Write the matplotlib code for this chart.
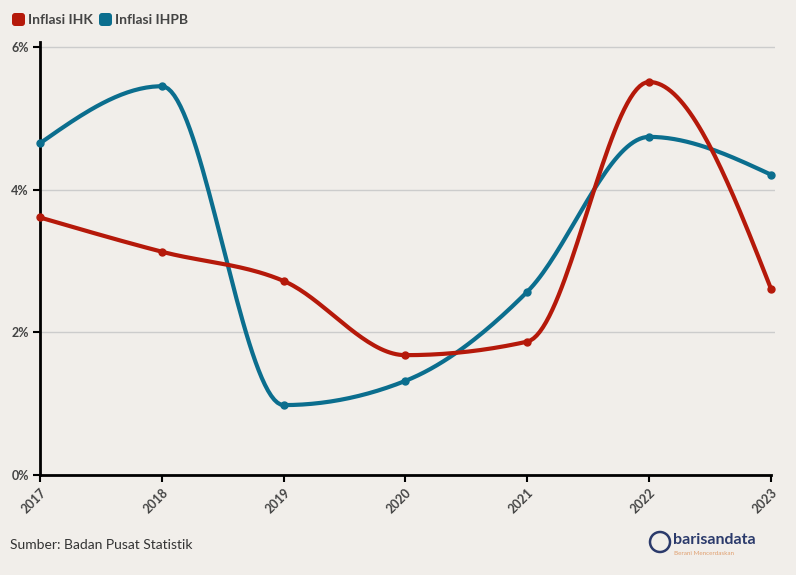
import numpy as np
import matplotlib.pyplot as plt
from matplotlib.patches import Circle, FancyBboxPatch

# data (persen)
tahun = [2017, 2018, 2019, 2020, 2021, 2022, 2023]
inflasi_ihk = [3.61, 3.13, 2.72, 1.68, 1.87, 5.51, 2.61]
inflasi_ihpb = [4.65, 5.45, 0.98, 1.32, 2.57, 4.74, 4.21]
y_ticks = [0, 2, 4, 6]
y_labels = ['0%', '2%', '4%', '6%']

bg = '#f1eeea'
merah = '#b5190a'
biru = '#0b6e8e'
teks = '#444444'

plt.rcParams['font.family'] = ['Lato', 'DejaVu Sans']


def monotone(x, y, n=40):
    # kurva monoton (mirip d3 curveMonotoneX)
    x = np.asarray(x, float)
    y = np.asarray(y, float)
    h = np.diff(x)
    s = np.diff(y) / h
    m = np.zeros_like(y)
    for i in range(1, len(y) - 1):
        if s[i - 1] * s[i] <= 0:
            m[i] = 0
        else:
            p = (s[i - 1] * h[i] + s[i] * h[i - 1]) / (h[i - 1] + h[i])
            m[i] = (np.sign(s[i - 1]) + np.sign(s[i])) * min(abs(s[i - 1]), abs(s[i]), 0.5 * abs(p))
    m[0] = (3 * s[0] - m[1]) / 2
    m[-1] = (3 * s[-1] - m[-2]) / 2
    xs, ys = [], []
    for i in range(len(x) - 1):
        t = np.linspace(0, 1, n)
        h00 = 2 * t**3 - 3 * t**2 + 1
        h10 = t**3 - 2 * t**2 + t
        h01 = -2 * t**3 + 3 * t**2
        h11 = t**3 - t**2
        xs.append(x[i] + t * h[i])
        ys.append(h00 * y[i] + h10 * h[i] * m[i] + h01 * y[i + 1] + h11 * h[i] * m[i + 1])
    return np.concatenate(xs), np.concatenate(ys)


W, H = 796, 575
fig = plt.figure(figsize=(W / 100, H / 100), dpi=100, facecolor=bg)
ax = fig.add_axes([40 / W, 1 - 475 / H, 735 / W, 433 / H], facecolor=bg)

for data, warna in [(inflasi_ihpb, biru), (inflasi_ihk, merah)]:
    xs, ys = monotone(tahun, data)
    ax.plot(xs, ys, color=warna, lw=3, solid_capstyle='round', zorder=3, clip_on=False)
    ax.plot(tahun, data, 'o', color=warna, ms=5, zorder=4, clip_on=False)

ax.set_xlim(2017, 2023 + 4 / 121.8)
ax.set_ylim(0, 6.07)
ax.set_xticks(tahun)
ax.set_xticklabels([str(t) for t in tahun], rotation=45, ha='right', va='top',
                   rotation_mode='anchor', fontsize=9, fontweight='bold', color=teks)
ax.set_yticks(y_ticks)
ax.set_yticklabels(y_labels, fontsize=9, fontweight='bold', color=teks)
ax.yaxis.grid(True, color='#cccccc', lw=1)
ax.set_axisbelow(True)
ax.tick_params(axis='both', length=5, width=1.5, color='black', pad=3)
for s in ['top', 'right']:
    ax.spines[s].set_visible(False)
for s in ['left', 'bottom']:
    ax.spines[s].set_linewidth(2)
    ax.spines[s].set_color('black')
ax.spines['bottom'].set_bounds(2017, 2023)

# legenda manual
for x0, warna, label in [(12, merah, 'Inflasi IHK'), (99, biru, 'Inflasi IHPB')]:
    fig.patches.append(FancyBboxPatch((x0, H - 26), 13, 13, boxstyle='round,pad=0,rounding_size=3',
                                      transform=None, fc=warna, ec='none'))
    fig.text((x0 + 16) / W, 1 - 19.5 / H, label, fontsize=10, fontweight='bold',
             color=teks, va='center', ha='left')

fig.text(10 / W, 1 - 545 / H, 'Sumber: Badan Pusat Statistik', fontsize=10,
         color='#333333', va='center')

# logo barisandata
fig.patches.append(Circle((660, H - 542), 10, transform=None,
                          fill=False, ec='#2b3a6b', lw=1.8))
fig.text(673 / W, 1 - 540 / H, 'barisandata', fontsize=11.5, fontweight='bold',
         color='#2b3a6b', va='center')
fig.text(674 / W, 1 - 553.5 / H, 'Berani Mencerdaskan', fontsize=4.5,
         color='#e0a070', va='center')

fig.savefig('out.png', dpi=100, facecolor=bg)
